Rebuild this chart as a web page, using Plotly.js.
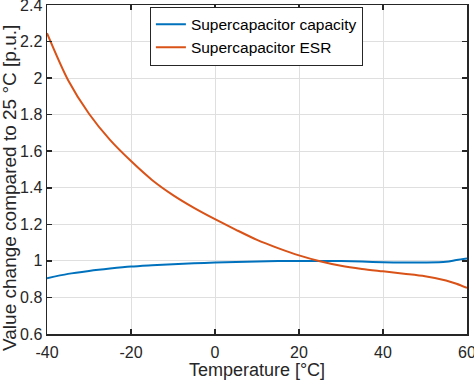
<!DOCTYPE html>
<html>
<head>
<meta charset="utf-8">
<script src="https://cdn.plot.ly/plotly-3.0.1.min.js"></script>
<style>html,body{margin:0;padding:0;background:#fff;}#chart{width:474px;height:380px;}</style>
</head>
<body>
<div id="chart"></div>
<script>
const temperature = [-40, -35, -30, -25, -20, -15, -10, -5, 0, 5, 10, 15, 20, 25, 30, 35, 40, 45, 50, 55, 57.5, 60];
const capacity = [0.905, 0.929, 0.945, 0.958, 0.969, 0.976, 0.982, 0.987, 0.991, 0.994, 0.997, 0.999, 1.0, 1.0, 0.999, 0.996, 0.993, 0.991, 0.991, 0.995, 1.005, 1.013];
const esr = [2.246, 1.99, 1.805, 1.662, 1.546, 1.443, 1.36, 1.29, 1.228, 1.17, 1.115, 1.07, 1.03, 0.998, 0.973, 0.956, 0.943, 0.93, 0.916, 0.893, 0.875, 0.852];
const seriesNames = ['Supercapacitor capacity', 'Supercapacitor ESR'];
const xTicks = [-40, -20, 0, 20, 40, 60];
const yTicks = [0.6, 0.8, 1, 1.2, 1.4, 1.6, 1.8, 2, 2.2, 2.4];
const xTitle = 'Temperature [°C]';
const yTitle = 'Value change compared to 25 °C [p.u.]';

const axisColor = '#262626';
const gridColor = '#dfdfdf';
const family = 'Liberation Sans, Arial, sans-serif';
const tickFont = {family: family, size: 16, color: axisColor};

const traces = [
  {x: temperature, y: capacity, name: seriesNames[0], mode: 'lines',
   line: {color: '#0072BD', width: 2, shape: 'spline', smoothing: 0.8}},
  {x: temperature, y: esr, name: seriesNames[1], mode: 'lines',
   line: {color: '#D95319', width: 2, shape: 'spline', smoothing: 0.8}}
];

const axisCommon = {
  showline: true, linecolor: axisColor, linewidth: 1.5, mirror: 'ticks',
  ticks: 'inside', ticklen: 5, tickcolor: axisColor, tickwidth: 1.5,
  showgrid: true, gridcolor: gridColor, gridwidth: 1, zeroline: false,
  tickfont: tickFont, ticklabeloverflow: 'allow'
};

const layout = {
  width: 474, height: 380,
  margin: {l: 47, r: 7, t: 5, b: 46},
  paper_bgcolor: '#fff', plot_bgcolor: '#fff',
  font: tickFont,
  showlegend: true,
  legend: {x: 0.245, y: 0.995, xanchor: 'left', yanchor: 'top',
           bgcolor: '#fff', bordercolor: axisColor, borderwidth: 1,
           font: {family: family, size: 15.5, color: '#000'},
           tracegroupgap: 0, itemwidth: 30},
  xaxis: Object.assign({}, axisCommon, {
    range: [-40, 60], tickvals: xTicks, ticktext: xTicks.map(String),
    ticklabelstandoff: 3,
    title: {text: xTitle, font: {family: family, size: 18, color: axisColor}, standoff: 2}
  }),
  yaxis: Object.assign({}, axisCommon, {
    range: [0.6, 2.4], tickvals: yTicks, ticktext: yTicks.map(String)
  }),
  annotations: [{
    text: yTitle, textangle: -90, showarrow: false,
    xref: 'paper', yref: 'paper', x: -0.088, y: 0.444,
    xanchor: 'center', yanchor: 'middle',
    font: {family: family, size: 19, color: axisColor}
  }]
};

Plotly.newPlot('chart', traces, layout, {displayModeBar: false, staticPlot: true});
</script>
</body>
</html>
